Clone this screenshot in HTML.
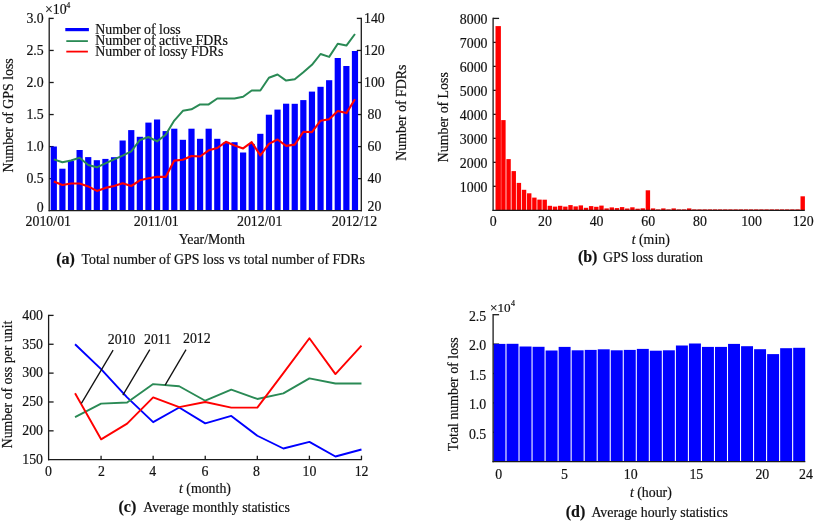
<!DOCTYPE html>
<html><head><meta charset="utf-8"><style>
html,body{margin:0;padding:0;background:#fff;overflow:hidden;}
svg{display:block;will-change:transform;}
text{font-family:"Liberation Serif", serif;fill:#111;stroke:#111;stroke-width:0.18px;}
</style></head><body>
<svg width="814" height="521" viewBox="0 0 814 521">
<rect x="0" y="0" width="814" height="521" fill="#fff"/>
<line x1="49.20" y1="18.40" x2="53.70" y2="18.40" stroke="#1a1a1a" stroke-width="1.3"/>
<line x1="356.80" y1="18.40" x2="361.30" y2="18.40" stroke="#1a1a1a" stroke-width="1.3"/>
<line x1="49.20" y1="50.45" x2="53.70" y2="50.45" stroke="#1a1a1a" stroke-width="1.3"/>
<line x1="356.80" y1="50.45" x2="361.30" y2="50.45" stroke="#1a1a1a" stroke-width="1.3"/>
<line x1="49.20" y1="82.50" x2="53.70" y2="82.50" stroke="#1a1a1a" stroke-width="1.3"/>
<line x1="356.80" y1="82.50" x2="361.30" y2="82.50" stroke="#1a1a1a" stroke-width="1.3"/>
<line x1="49.20" y1="114.55" x2="53.70" y2="114.55" stroke="#1a1a1a" stroke-width="1.3"/>
<line x1="356.80" y1="114.55" x2="361.30" y2="114.55" stroke="#1a1a1a" stroke-width="1.3"/>
<line x1="49.20" y1="146.60" x2="53.70" y2="146.60" stroke="#1a1a1a" stroke-width="1.3"/>
<line x1="356.80" y1="146.60" x2="361.30" y2="146.60" stroke="#1a1a1a" stroke-width="1.3"/>
<line x1="49.20" y1="178.65" x2="53.70" y2="178.65" stroke="#1a1a1a" stroke-width="1.3"/>
<line x1="356.80" y1="178.65" x2="361.30" y2="178.65" stroke="#1a1a1a" stroke-width="1.3"/>
<line x1="53.80" y1="210.70" x2="53.80" y2="207.70" stroke="#1a1a1a" stroke-width="1.3"/>
<line x1="157.06" y1="210.70" x2="157.06" y2="207.70" stroke="#1a1a1a" stroke-width="1.3"/>
<line x1="260.32" y1="210.70" x2="260.32" y2="207.70" stroke="#1a1a1a" stroke-width="1.3"/>
<line x1="354.98" y1="210.70" x2="354.98" y2="207.70" stroke="#1a1a1a" stroke-width="1.3"/>
<rect x="50.70" y="146.50" width="6.20" height="64.20" fill="#0000ff"/>
<rect x="59.30" y="168.70" width="6.20" height="42.00" fill="#0000ff"/>
<rect x="67.91" y="161.00" width="6.20" height="49.70" fill="#0000ff"/>
<rect x="76.52" y="150.00" width="6.20" height="60.70" fill="#0000ff"/>
<rect x="85.12" y="157.10" width="6.20" height="53.60" fill="#0000ff"/>
<rect x="93.73" y="160.20" width="6.20" height="50.50" fill="#0000ff"/>
<rect x="102.33" y="158.90" width="6.20" height="51.80" fill="#0000ff"/>
<rect x="110.94" y="157.20" width="6.20" height="53.50" fill="#0000ff"/>
<rect x="119.54" y="140.50" width="6.20" height="70.20" fill="#0000ff"/>
<rect x="128.15" y="130.10" width="6.20" height="80.60" fill="#0000ff"/>
<rect x="136.75" y="136.80" width="6.20" height="73.90" fill="#0000ff"/>
<rect x="145.35" y="122.60" width="6.20" height="88.10" fill="#0000ff"/>
<rect x="153.96" y="119.50" width="6.20" height="91.20" fill="#0000ff"/>
<rect x="162.57" y="131.10" width="6.20" height="79.60" fill="#0000ff"/>
<rect x="171.17" y="128.70" width="6.20" height="82.00" fill="#0000ff"/>
<rect x="179.78" y="139.80" width="6.20" height="70.90" fill="#0000ff"/>
<rect x="188.38" y="128.70" width="6.20" height="82.00" fill="#0000ff"/>
<rect x="196.98" y="138.80" width="6.20" height="71.90" fill="#0000ff"/>
<rect x="205.59" y="128.70" width="6.20" height="82.00" fill="#0000ff"/>
<rect x="214.20" y="138.80" width="6.20" height="71.90" fill="#0000ff"/>
<rect x="222.80" y="142.50" width="6.20" height="68.20" fill="#0000ff"/>
<rect x="231.41" y="142.20" width="6.20" height="68.50" fill="#0000ff"/>
<rect x="240.01" y="152.50" width="6.20" height="58.20" fill="#0000ff"/>
<rect x="248.62" y="143.90" width="6.20" height="66.80" fill="#0000ff"/>
<rect x="257.22" y="133.80" width="6.20" height="76.90" fill="#0000ff"/>
<rect x="265.82" y="114.70" width="6.20" height="96.00" fill="#0000ff"/>
<rect x="274.43" y="109.60" width="6.20" height="101.10" fill="#0000ff"/>
<rect x="283.03" y="103.70" width="6.20" height="107.00" fill="#0000ff"/>
<rect x="291.64" y="103.80" width="6.20" height="106.90" fill="#0000ff"/>
<rect x="300.25" y="100.10" width="6.20" height="110.60" fill="#0000ff"/>
<rect x="308.85" y="91.60" width="6.20" height="119.10" fill="#0000ff"/>
<rect x="317.45" y="86.80" width="6.20" height="123.90" fill="#0000ff"/>
<rect x="326.06" y="80.20" width="6.20" height="130.50" fill="#0000ff"/>
<rect x="334.67" y="58.00" width="6.20" height="152.70" fill="#0000ff"/>
<rect x="343.27" y="66.00" width="6.20" height="144.70" fill="#0000ff"/>
<rect x="351.88" y="51.00" width="6.20" height="159.70" fill="#0000ff"/>
<polyline points="53.80,159.40 62.41,162.30 71.01,160.50 79.61,157.80 88.22,165.00 96.83,167.30 105.43,163.40 114.03,159.40 122.64,155.70 131.25,151.30 139.85,140.00 148.45,137.00 157.06,141.40 165.67,134.70 174.27,120.60 182.88,110.80 191.48,109.30 200.08,104.40 208.69,104.40 217.30,98.50 225.90,98.50 234.50,98.50 243.11,96.80 251.72,90.50 260.32,90.50 268.93,77.70 277.53,74.50 286.13,80.60 294.74,79.20 303.35,72.30 311.95,64.80 320.56,54.00 329.16,56.90 337.77,43.70 346.37,45.60 354.98,34.00" fill="none" stroke="#2a8a55" stroke-width="2.0" stroke-linejoin="round" stroke-linecap="butt"/>
<polyline points="53.80,181.50 62.41,185.00 71.01,183.50 79.61,183.50 88.22,186.40 96.83,190.90 105.43,187.90 114.03,186.00 122.64,183.20 131.25,186.00 139.85,180.30 148.45,178.30 157.06,176.90 165.67,176.90 174.27,160.60 182.88,159.70 191.48,156.00 200.08,156.50 208.69,150.30 217.30,148.00 225.90,141.80 234.50,145.50 243.11,148.40 251.72,142.20 260.32,155.40 268.93,143.90 277.53,139.50 286.13,145.90 294.74,144.60 303.35,131.80 311.95,132.10 320.56,120.70 329.16,119.30 337.77,111.10 346.37,113.10 354.98,99.30" fill="none" stroke="#ff0000" stroke-width="2.1" stroke-linejoin="round" stroke-linecap="butt"/>
<line x1="49.20" y1="17.80" x2="49.20" y2="211.30" stroke="#1a1a1a" stroke-width="1.3"/>
<line x1="48.60" y1="210.70" x2="361.90" y2="210.70" stroke="#1a1a1a" stroke-width="1.3"/>
<line x1="361.30" y1="17.80" x2="361.30" y2="211.30" stroke="#1a1a1a" stroke-width="1.3"/>
<text x="43.70" y="22.80" text-anchor="end" font-size="13.85">3.0</text>
<text x="374.40" y="22.80" text-anchor="middle" font-size="13.85">140</text>
<text x="43.70" y="54.85" text-anchor="end" font-size="13.85">2.5</text>
<text x="374.40" y="54.85" text-anchor="middle" font-size="13.85">120</text>
<text x="43.70" y="86.90" text-anchor="end" font-size="13.85">2.0</text>
<text x="374.40" y="86.90" text-anchor="middle" font-size="13.85">100</text>
<text x="43.70" y="118.95" text-anchor="end" font-size="13.85">1.5</text>
<text x="374.40" y="118.95" text-anchor="middle" font-size="13.85">80</text>
<text x="43.70" y="151.00" text-anchor="end" font-size="13.85">1.0</text>
<text x="374.40" y="151.00" text-anchor="middle" font-size="13.85">60</text>
<text x="43.70" y="183.05" text-anchor="end" font-size="13.85">0.5</text>
<text x="374.40" y="183.05" text-anchor="middle" font-size="13.85">40</text>
<text x="43.70" y="211.80" text-anchor="end" font-size="13.85">0</text>
<text x="374.40" y="210.70" text-anchor="middle" font-size="13.85">20</text>
<text x="45.00" y="13.60" text-anchor="start" font-size="13.85">×10</text>
<text x="66.30" y="8.00" text-anchor="start" font-size="8">4</text>
<text x="48.30" y="225.60" text-anchor="middle" font-size="13.85">2010/01</text>
<text x="156.30" y="225.60" text-anchor="middle" font-size="13.85">2011/01</text>
<text x="259.70" y="225.60" text-anchor="middle" font-size="13.85">2012/01</text>
<text x="354.50" y="225.60" text-anchor="middle" font-size="13.85">2012/12</text>
<text x="211.80" y="243.90" text-anchor="middle" font-size="13.85">Year/Month</text>
<text x="13.00" y="115.40" text-anchor="middle" font-size="13.85" transform="rotate(-90 13.00 115.40)">Number of GPS loss</text>
<text x="406.20" y="112.70" text-anchor="middle" font-size="13.85" transform="rotate(-90 406.20 112.70)">Number of FDRs</text>
<line x1="65.30" y1="29.60" x2="88.90" y2="29.60" stroke="#0000ff" stroke-width="3.2"/>
<line x1="66.30" y1="41.10" x2="87.90" y2="41.10" stroke="#2a8a55" stroke-width="1.8"/>
<line x1="66.30" y1="51.60" x2="87.90" y2="51.60" stroke="#ff0000" stroke-width="1.8"/>
<text x="95.30" y="33.80" text-anchor="start" font-size="13.85">Number of loss</text>
<text x="95.30" y="45.10" text-anchor="start" font-size="13.85">Number of active FDRs</text>
<text x="95.30" y="55.60" text-anchor="start" font-size="13.85">Number of lossy FDRs</text>
<text x="56.20" y="263.70" text-anchor="start" font-size="16" font-weight="bold">(a)</text>
<text x="81.60" y="264.20" text-anchor="start" font-size="13.85">Total number of GPS loss vs total number of FDRs</text>
<line x1="493.10" y1="18.40" x2="499.10" y2="18.40" stroke="#1a1a1a" stroke-width="1.3"/>
<line x1="493.10" y1="42.39" x2="499.10" y2="42.39" stroke="#1a1a1a" stroke-width="1.3"/>
<line x1="493.10" y1="66.38" x2="499.10" y2="66.38" stroke="#1a1a1a" stroke-width="1.3"/>
<line x1="493.10" y1="90.36" x2="499.10" y2="90.36" stroke="#1a1a1a" stroke-width="1.3"/>
<line x1="493.10" y1="114.35" x2="499.10" y2="114.35" stroke="#1a1a1a" stroke-width="1.3"/>
<line x1="493.10" y1="138.34" x2="499.10" y2="138.34" stroke="#1a1a1a" stroke-width="1.3"/>
<line x1="493.10" y1="162.33" x2="499.10" y2="162.33" stroke="#1a1a1a" stroke-width="1.3"/>
<line x1="493.10" y1="186.31" x2="499.10" y2="186.31" stroke="#1a1a1a" stroke-width="1.3"/>
<rect x="495.50" y="26.10" width="5.40" height="184.20" fill="#ff0000"/>
<rect x="501.22" y="120.10" width="4.40" height="90.20" fill="#ff0000"/>
<rect x="506.38" y="159.10" width="4.40" height="51.20" fill="#ff0000"/>
<rect x="511.54" y="171.10" width="4.40" height="39.20" fill="#ff0000"/>
<rect x="516.70" y="182.90" width="4.40" height="27.40" fill="#ff0000"/>
<rect x="521.86" y="189.80" width="4.40" height="20.50" fill="#ff0000"/>
<rect x="527.02" y="193.30" width="4.40" height="17.00" fill="#ff0000"/>
<rect x="532.18" y="197.60" width="4.40" height="12.70" fill="#ff0000"/>
<rect x="537.34" y="199.60" width="4.40" height="10.70" fill="#ff0000"/>
<rect x="542.50" y="199.70" width="4.40" height="10.60" fill="#ff0000"/>
<rect x="547.66" y="205.80" width="4.40" height="4.50" fill="#ff0000"/>
<rect x="552.82" y="206.60" width="4.40" height="3.70" fill="#ff0000"/>
<rect x="557.98" y="205.80" width="4.40" height="4.50" fill="#ff0000"/>
<rect x="563.14" y="206.60" width="4.40" height="3.70" fill="#ff0000"/>
<rect x="568.30" y="205.10" width="4.40" height="5.20" fill="#ff0000"/>
<rect x="573.46" y="206.40" width="4.40" height="3.90" fill="#ff0000"/>
<rect x="578.62" y="205.40" width="4.40" height="4.90" fill="#ff0000"/>
<rect x="583.78" y="207.80" width="4.40" height="2.50" fill="#ff0000"/>
<rect x="588.94" y="206.10" width="4.40" height="4.20" fill="#ff0000"/>
<rect x="594.10" y="206.80" width="4.40" height="3.50" fill="#ff0000"/>
<rect x="599.26" y="205.60" width="4.40" height="4.70" fill="#ff0000"/>
<rect x="604.42" y="208.40" width="4.40" height="1.90" fill="#ff0000"/>
<rect x="609.58" y="207.40" width="4.40" height="2.90" fill="#ff0000"/>
<rect x="614.74" y="208.10" width="4.40" height="2.20" fill="#ff0000"/>
<rect x="619.90" y="207.10" width="4.40" height="3.20" fill="#ff0000"/>
<rect x="625.06" y="208.50" width="4.40" height="1.80" fill="#ff0000"/>
<rect x="630.22" y="207.30" width="4.40" height="3.00" fill="#ff0000"/>
<rect x="635.38" y="208.70" width="4.40" height="1.60" fill="#ff0000"/>
<rect x="640.54" y="208.30" width="4.40" height="2.00" fill="#ff0000"/>
<rect x="645.70" y="190.30" width="4.40" height="20.00" fill="#ff0000"/>
<rect x="650.86" y="208.40" width="4.40" height="1.90" fill="#ff0000"/>
<rect x="656.02" y="209.40" width="4.40" height="0.90" fill="#ff0000"/>
<rect x="661.18" y="208.40" width="4.40" height="1.90" fill="#ff0000"/>
<rect x="666.34" y="209.40" width="4.40" height="0.90" fill="#ff0000"/>
<rect x="671.50" y="208.40" width="4.40" height="1.90" fill="#ff0000"/>
<rect x="676.66" y="209.40" width="4.40" height="0.90" fill="#ff0000"/>
<rect x="681.82" y="209.40" width="4.40" height="0.90" fill="#ff0000"/>
<rect x="686.98" y="208.40" width="4.40" height="1.90" fill="#ff0000"/>
<rect x="692.14" y="209.40" width="4.40" height="0.90" fill="#ff0000"/>
<rect x="697.30" y="209.40" width="4.40" height="0.90" fill="#ff0000"/>
<rect x="702.46" y="209.40" width="4.40" height="0.90" fill="#ff0000"/>
<rect x="707.62" y="209.40" width="4.40" height="0.90" fill="#ff0000"/>
<rect x="712.78" y="209.40" width="4.40" height="0.90" fill="#ff0000"/>
<rect x="717.94" y="209.40" width="4.40" height="0.90" fill="#ff0000"/>
<rect x="723.10" y="209.40" width="4.40" height="0.90" fill="#ff0000"/>
<rect x="728.26" y="209.40" width="4.40" height="0.90" fill="#ff0000"/>
<rect x="733.42" y="209.40" width="4.40" height="0.90" fill="#ff0000"/>
<rect x="738.58" y="209.40" width="4.40" height="0.90" fill="#ff0000"/>
<rect x="743.74" y="209.40" width="4.40" height="0.90" fill="#ff0000"/>
<rect x="748.90" y="209.40" width="4.40" height="0.90" fill="#ff0000"/>
<rect x="754.06" y="209.40" width="4.40" height="0.90" fill="#ff0000"/>
<rect x="759.22" y="209.40" width="4.40" height="0.90" fill="#ff0000"/>
<rect x="764.38" y="209.40" width="4.40" height="0.90" fill="#ff0000"/>
<rect x="769.54" y="209.40" width="4.40" height="0.90" fill="#ff0000"/>
<rect x="774.70" y="209.40" width="4.40" height="0.90" fill="#ff0000"/>
<rect x="779.86" y="209.40" width="4.40" height="0.90" fill="#ff0000"/>
<rect x="785.02" y="209.40" width="4.40" height="0.90" fill="#ff0000"/>
<rect x="790.18" y="209.40" width="4.40" height="0.90" fill="#ff0000"/>
<rect x="795.34" y="209.40" width="4.40" height="0.90" fill="#ff0000"/>
<rect x="800.50" y="196.30" width="4.40" height="14.00" fill="#ff0000"/>
<line x1="493.10" y1="17.80" x2="493.10" y2="210.90" stroke="#1a1a1a" stroke-width="1.3"/>
<line x1="492.50" y1="210.30" x2="804.80" y2="210.30" stroke="#1a1a1a" stroke-width="1.3"/>
<text x="487.50" y="24.00" text-anchor="end" font-size="13.85">8000</text>
<text x="487.50" y="47.99" text-anchor="end" font-size="13.85">7000</text>
<text x="487.50" y="71.97" text-anchor="end" font-size="13.85">6000</text>
<text x="487.50" y="95.96" text-anchor="end" font-size="13.85">5000</text>
<text x="487.50" y="119.95" text-anchor="end" font-size="13.85">4000</text>
<text x="487.50" y="143.94" text-anchor="end" font-size="13.85">3000</text>
<text x="487.50" y="167.93" text-anchor="end" font-size="13.85">2000</text>
<text x="487.50" y="191.91" text-anchor="end" font-size="13.85">1000</text>
<text x="493.30" y="226.20" text-anchor="middle" font-size="13.85">0</text>
<text x="544.95" y="226.20" text-anchor="middle" font-size="13.85">20</text>
<text x="596.60" y="226.20" text-anchor="middle" font-size="13.85">40</text>
<text x="648.25" y="226.20" text-anchor="middle" font-size="13.85">60</text>
<text x="699.90" y="226.20" text-anchor="middle" font-size="13.85">80</text>
<text x="751.55" y="226.20" text-anchor="middle" font-size="13.85">100</text>
<text x="803.20" y="226.20" text-anchor="middle" font-size="13.85">120</text>
<text x="448.40" y="117.20" text-anchor="middle" font-size="13.85" transform="rotate(-90 448.40 117.20)">Number of Loss</text>
<text x="631.70" y="244.00" text-anchor="start" font-size="13.85"><tspan font-style="italic">t</tspan> (min)</text>
<text x="577.90" y="261.90" text-anchor="start" font-size="16" font-weight="bold">(b)</text>
<text x="603.00" y="262.20" text-anchor="start" font-size="13.85">GPS loss duration</text>
<line x1="48.60" y1="315.40" x2="53.60" y2="315.40" stroke="#1a1a1a" stroke-width="1.3"/>
<line x1="48.60" y1="344.26" x2="53.60" y2="344.26" stroke="#1a1a1a" stroke-width="1.3"/>
<line x1="48.60" y1="373.12" x2="53.60" y2="373.12" stroke="#1a1a1a" stroke-width="1.3"/>
<line x1="48.60" y1="401.98" x2="53.60" y2="401.98" stroke="#1a1a1a" stroke-width="1.3"/>
<line x1="48.60" y1="430.84" x2="53.60" y2="430.84" stroke="#1a1a1a" stroke-width="1.3"/>
<line x1="101.08" y1="459.70" x2="101.08" y2="455.70" stroke="#1a1a1a" stroke-width="1.3"/>
<line x1="153.16" y1="459.70" x2="153.16" y2="455.70" stroke="#1a1a1a" stroke-width="1.3"/>
<line x1="205.24" y1="459.70" x2="205.24" y2="455.70" stroke="#1a1a1a" stroke-width="1.3"/>
<line x1="257.32" y1="459.70" x2="257.32" y2="455.70" stroke="#1a1a1a" stroke-width="1.3"/>
<line x1="309.40" y1="459.70" x2="309.40" y2="455.70" stroke="#1a1a1a" stroke-width="1.3"/>
<line x1="361.48" y1="459.70" x2="361.48" y2="455.70" stroke="#1a1a1a" stroke-width="1.3"/>
<line x1="48.60" y1="314.80" x2="48.60" y2="460.30" stroke="#1a1a1a" stroke-width="1.3"/>
<line x1="48.00" y1="459.70" x2="361.90" y2="459.70" stroke="#1a1a1a" stroke-width="1.3"/>
<polyline points="75.04,344.26 101.08,369.08 127.12,397.36 153.16,422.18 179.20,407.46 205.24,423.34 231.28,415.95 257.32,435.75 283.36,448.50 309.40,441.92 335.44,456.47 361.48,449.54" fill="none" stroke="#0000ff" stroke-width="1.9" stroke-linejoin="round" stroke-linecap="butt"/>
<polyline points="75.04,417.04 101.08,403.60 127.12,402.56 153.16,384.09 179.20,386.28 205.24,400.71 231.28,389.69 257.32,398.98 283.36,393.32 309.40,378.43 335.44,383.51 361.48,383.51" fill="none" stroke="#2a8a55" stroke-width="1.9" stroke-linejoin="round" stroke-linecap="butt"/>
<polyline points="75.04,393.21 101.08,439.32 127.12,423.62 153.16,397.36 179.20,407.17 205.24,401.98 231.28,407.58 257.32,407.58 283.36,373.12 309.40,338.20 335.44,374.10 361.48,345.53" fill="none" stroke="#ff0000" stroke-width="1.9" stroke-linejoin="round" stroke-linecap="butt"/>
<line x1="113.10" y1="350.10" x2="81.40" y2="403.40" stroke="#111" stroke-width="1.3"/>
<line x1="149.80" y1="349.60" x2="122.90" y2="395.10" stroke="#111" stroke-width="1.3"/>
<line x1="186.00" y1="349.60" x2="165.10" y2="385.20" stroke="#111" stroke-width="1.3"/>
<text x="121.70" y="344.20" text-anchor="middle" font-size="13.85">2010</text>
<text x="157.60" y="344.20" text-anchor="middle" font-size="13.85">2011</text>
<text x="196.80" y="342.70" text-anchor="middle" font-size="13.85">2012</text>
<text x="43.00" y="319.70" text-anchor="end" font-size="13.85">400</text>
<text x="43.00" y="348.56" text-anchor="end" font-size="13.85">350</text>
<text x="43.00" y="377.42" text-anchor="end" font-size="13.85">300</text>
<text x="43.00" y="406.28" text-anchor="end" font-size="13.85">250</text>
<text x="43.00" y="435.14" text-anchor="end" font-size="13.85">200</text>
<text x="43.00" y="464.00" text-anchor="end" font-size="13.85">150</text>
<text x="48.40" y="476.20" text-anchor="middle" font-size="13.85">0</text>
<text x="101.40" y="476.20" text-anchor="middle" font-size="13.85">2</text>
<text x="152.80" y="476.20" text-anchor="middle" font-size="13.85">4</text>
<text x="205.00" y="476.20" text-anchor="middle" font-size="13.85">6</text>
<text x="256.40" y="476.20" text-anchor="middle" font-size="13.85">8</text>
<text x="309.40" y="476.20" text-anchor="middle" font-size="13.85">10</text>
<text x="361.60" y="476.20" text-anchor="middle" font-size="13.85">12</text>
<text x="11.70" y="384.50" text-anchor="middle" font-size="13.85" transform="rotate(-90 11.70 384.50)">Number of oss per unit</text>
<text x="179.00" y="492.80" text-anchor="start" font-size="13.85"><tspan font-style="italic">t</tspan> (month)</text>
<text x="118.50" y="511.50" text-anchor="start" font-size="16" font-weight="bold">(c)</text>
<text x="143.30" y="511.80" text-anchor="start" font-size="13.85">Average monthly statistics</text>
<line x1="493.10" y1="314.70" x2="499.10" y2="314.70" stroke="#1a1a1a" stroke-width="1.3"/>
<line x1="493.10" y1="344.10" x2="499.10" y2="344.10" stroke="#1a1a1a" stroke-width="1.3"/>
<line x1="493.10" y1="373.50" x2="499.10" y2="373.50" stroke="#1a1a1a" stroke-width="1.3"/>
<line x1="493.10" y1="402.90" x2="499.10" y2="402.90" stroke="#1a1a1a" stroke-width="1.3"/>
<line x1="493.10" y1="432.30" x2="499.10" y2="432.30" stroke="#1a1a1a" stroke-width="1.3"/>
<rect x="493.50" y="343.90" width="11.95" height="117.80" fill="#0000ff"/>
<rect x="506.53" y="343.80" width="11.95" height="117.90" fill="#0000ff"/>
<rect x="519.56" y="346.50" width="11.95" height="115.20" fill="#0000ff"/>
<rect x="532.59" y="346.80" width="11.95" height="114.90" fill="#0000ff"/>
<rect x="545.62" y="350.50" width="11.95" height="111.20" fill="#0000ff"/>
<rect x="558.65" y="346.90" width="11.95" height="114.80" fill="#0000ff"/>
<rect x="571.68" y="350.30" width="11.95" height="111.40" fill="#0000ff"/>
<rect x="584.71" y="349.90" width="11.95" height="111.80" fill="#0000ff"/>
<rect x="597.74" y="349.30" width="11.95" height="112.40" fill="#0000ff"/>
<rect x="610.77" y="350.30" width="11.95" height="111.40" fill="#0000ff"/>
<rect x="623.80" y="349.90" width="11.95" height="111.80" fill="#0000ff"/>
<rect x="636.83" y="348.90" width="11.95" height="112.80" fill="#0000ff"/>
<rect x="649.86" y="350.70" width="11.95" height="111.00" fill="#0000ff"/>
<rect x="662.89" y="350.30" width="11.95" height="111.40" fill="#0000ff"/>
<rect x="675.92" y="345.50" width="11.95" height="116.20" fill="#0000ff"/>
<rect x="688.95" y="343.50" width="11.95" height="118.20" fill="#0000ff"/>
<rect x="701.98" y="346.90" width="11.95" height="114.80" fill="#0000ff"/>
<rect x="715.01" y="346.90" width="11.95" height="114.80" fill="#0000ff"/>
<rect x="728.04" y="343.90" width="11.95" height="117.80" fill="#0000ff"/>
<rect x="741.07" y="346.20" width="11.95" height="115.50" fill="#0000ff"/>
<rect x="754.10" y="349.20" width="11.95" height="112.50" fill="#0000ff"/>
<rect x="767.13" y="354.10" width="11.95" height="107.60" fill="#0000ff"/>
<rect x="780.16" y="348.20" width="11.95" height="113.50" fill="#0000ff"/>
<rect x="793.19" y="347.80" width="11.95" height="113.90" fill="#0000ff"/>
<line x1="493.10" y1="314.10" x2="493.10" y2="462.30" stroke="#1a1a1a" stroke-width="1.3"/>
<line x1="492.50" y1="461.70" x2="805.30" y2="461.70" stroke="#1a1a1a" stroke-width="1.3"/>
<text x="486.20" y="320.90" text-anchor="end" font-size="13.85">2.5</text>
<text x="486.20" y="350.30" text-anchor="end" font-size="13.85">2.0</text>
<text x="486.20" y="379.70" text-anchor="end" font-size="13.85">1.5</text>
<text x="486.20" y="409.10" text-anchor="end" font-size="13.85">1.0</text>
<text x="486.20" y="438.50" text-anchor="end" font-size="13.85">0.5</text>
<text x="490.00" y="312.00" text-anchor="start" font-size="13.2">×10</text>
<text x="510.90" y="306.30" text-anchor="start" font-size="8">4</text>
<text x="498.70" y="478.60" text-anchor="middle" font-size="13.85">0</text>
<text x="564.50" y="478.60" text-anchor="middle" font-size="13.85">5</text>
<text x="630.70" y="478.60" text-anchor="middle" font-size="13.85">10</text>
<text x="696.30" y="478.60" text-anchor="middle" font-size="13.85">15</text>
<text x="762.30" y="478.60" text-anchor="middle" font-size="13.85">20</text>
<text x="805.90" y="478.60" text-anchor="middle" font-size="13.85">24</text>
<text x="458.40" y="394.30" text-anchor="middle" font-size="13.85" transform="rotate(-90 458.40 394.30)">Total number of loss</text>
<text x="629.90" y="497.20" text-anchor="start" font-size="13.85"><tspan font-style="italic">t</tspan> (hour)</text>
<text x="565.70" y="517.00" text-anchor="start" font-size="16" font-weight="bold">(d)</text>
<text x="591.40" y="517.00" text-anchor="start" font-size="13.85">Average hourly statistics</text>
</svg></body></html>
